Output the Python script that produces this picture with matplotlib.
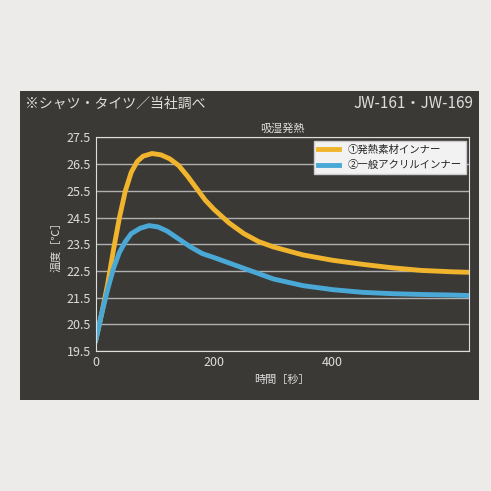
import matplotlib
matplotlib.use("Agg")
import matplotlib.pyplot as plt

plt.rcParams['font.family'] = ['Noto Sans CJK JP', 'DejaVu Sans']

t_a = [0, 10, 20, 30, 40, 50, 60, 70, 80, 95, 110, 125, 140, 155, 170, 185, 200, 225, 250, 275, 300, 350, 400, 450, 500, 550, 600, 630]
y_a = [19.9, 20.9, 22.0, 23.3, 24.5, 25.5, 26.2, 26.6, 26.8, 26.9, 26.85, 26.7, 26.45, 26.05, 25.6, 25.15, 24.8, 24.3, 23.9, 23.6, 23.4, 23.1, 22.9, 22.75, 22.62, 22.52, 22.47, 22.45]
t_b = [0, 10, 20, 30, 40, 50, 60, 75, 90, 105, 120, 140, 160, 180, 200, 225, 250, 275, 300, 350, 400, 450, 500, 550, 600, 630]
y_b = [19.9, 20.9, 21.8, 22.6, 23.2, 23.6, 23.9, 24.1, 24.2, 24.15, 24.0, 23.7, 23.4, 23.15, 23.0, 22.8, 22.6, 22.4, 22.2, 21.95, 21.8, 21.7, 21.65, 21.62, 21.6, 21.58]
yticks = [19.5, 20.5, 21.5, 22.5, 23.5, 24.5, 25.5, 26.5, 27.5]
xticks = [0, 200, 400]

fig = plt.figure(figsize=(4.91, 4.91), dpi=100)
fig.patch.set_facecolor('#ecebe9')
bg = fig.add_axes([0.04, 0.185, 0.935, 0.63], zorder=-1)
bg.set_facecolor('#3b3936')
bg.set_xticks([]); bg.set_yticks([])
for s in bg.spines.values():
    s.set_visible(False)

ax = fig.add_axes([0.195, 0.285, 0.76, 0.435], zorder=1)
ax.set_facecolor('#3b3936')
for s in ax.spines.values():
    s.set_color('#dddddd')
ax.set_xlim(0, 630)
ax.set_ylim(19.5, 27.5)
ax.set_yticks(yticks)
ax.set_yticklabels([f"{v:.1f}" for v in yticks])
ax.set_xticks(xticks)
ax.tick_params(colors='#dddddd', labelcolor='#dddddd', labelsize=9, length=0)
ax.grid(axis='y', color='#cfcfcf', lw=1, alpha=0.8)
ax.plot(t_a, y_a, color='#f0b52c', lw=3.5, label='①発熱素材インナー')
ax.plot(t_b, y_b, color='#4aa8d6', lw=3.5, label='②一般アクリルインナー')
leg = ax.legend(loc='upper right', fontsize=7.5, facecolor='#f2f2f2', edgecolor='#cccccc',
                framealpha=1, fancybox=False, borderaxespad=0.3)
for txt in leg.get_texts():
    txt.set_color('#222222')
ax.set_xlabel('時間［秒］', color='#dddddd', fontsize=8)
ax.set_ylabel('温度［℃］', color='#dddddd', fontsize=8)
ax.set_title('吸湿発熱', color='#dddddd', fontsize=8, pad=4)
fig.text(0.05, 0.78, '※シャツ・タイツ／当社調べ', color='#dddddd', fontsize=10)
fig.text(0.965, 0.78, 'JW-161・JW-169', color='#dddddd', fontsize=11, ha='right')
fig.savefig('out.png', dpi=100, facecolor=fig.get_facecolor())
